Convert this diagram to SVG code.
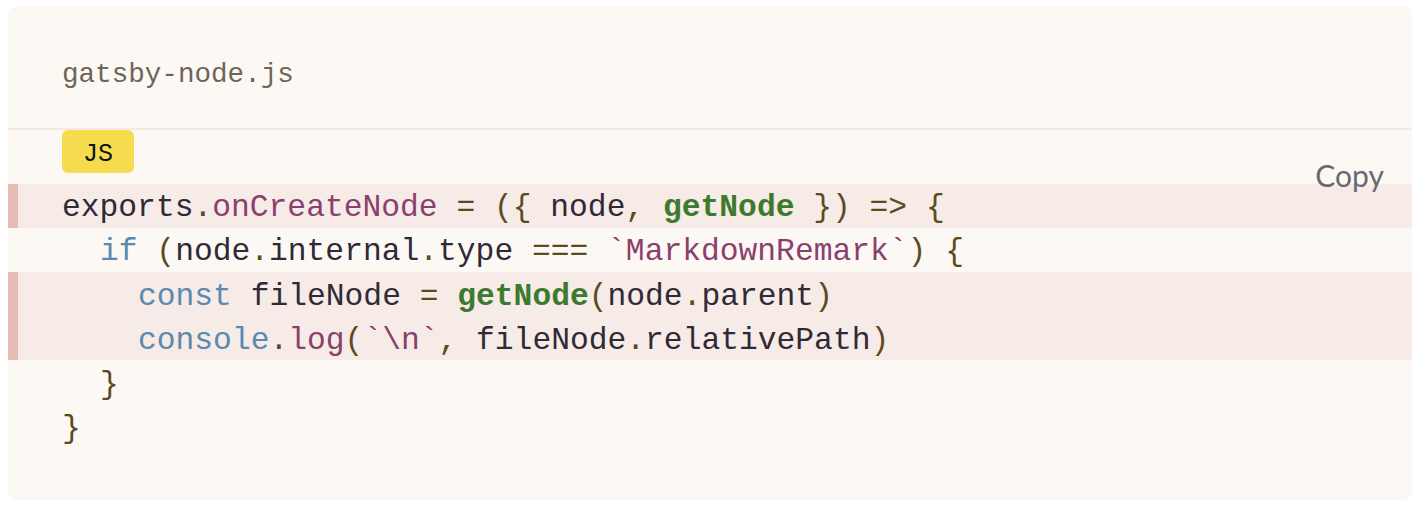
<svg xmlns="http://www.w3.org/2000/svg" width="1422" height="508" viewBox="0 0 1422 508">
<style>
.c{font-family:"Liberation Mono","DejaVu Sans Mono",monospace;font-size:31.3px;fill:#2f2a35}
.p{fill:#5b4a1f}.k{fill:#5a8ab0}.m{fill:#8b3f6e}.g{fill:#3c7a2e;font-weight:bold}
</style>
<rect width="1422" height="508" fill="#ffffff"/>
<rect x="8" y="6" width="1404" height="494" rx="9" fill="#fcf8f4"/>
<rect x="8" y="128" width="1404" height="2" fill="#f5e8e2"/>
<text x="62" y="82" font-family="Liberation Mono,monospace" font-size="27.6" fill="#6f6459">gatsby-node.js</text>
<g id="badge"><rect x="62" y="130" width="72" height="43" rx="6" fill="#f4dc4e"/>
<text x="98" y="161" text-anchor="middle" font-family="Liberation Mono,monospace" font-size="25" fill="#111">JS</text></g>
<rect x="8" y="184" width="1404" height="44" fill="#f6ebe6"/>
<rect x="8" y="272" width="1404" height="88" fill="#f6ebe6"/>
<rect x="8" y="184" width="10" height="44" fill="#e6bdb4"/>
<rect x="8" y="272" width="10" height="88" fill="#e6bdb4"/>
<text x="1384" y="187" text-anchor="end" font-family="Lato,sans-serif" font-size="30" fill="#6b6871">Copy</text>
<g class="c" xml:space="preserve">
<text x="62" y="216">exports<tspan class="p">.</tspan><tspan class="m">onCreateNode</tspan> <tspan class="p">=</tspan> <tspan class="p">({</tspan> node<tspan class="p">,</tspan> <tspan class="g">getNode</tspan> <tspan class="p">})</tspan> <tspan class="p">=&gt;</tspan> <tspan class="p">{</tspan></text>
<text x="100" y="260"><tspan class="k">if</tspan> <tspan class="p">(</tspan>node<tspan class="p">.</tspan>internal<tspan class="p">.</tspan>type <tspan class="p">===</tspan> <tspan class="m">`MarkdownRemark`</tspan><tspan class="p">)</tspan> <tspan class="p">{</tspan></text>
<text x="138" y="305"><tspan class="k">const</tspan> fileNode <tspan class="p">=</tspan> <tspan class="g">getNode</tspan><tspan class="p">(</tspan>node<tspan class="p">.</tspan>parent<tspan class="p">)</tspan></text>
<text x="138" y="349"><tspan class="k">console</tspan><tspan class="p">.</tspan><tspan class="m">log</tspan><tspan class="p">(</tspan><tspan class="m">`\n`</tspan><tspan class="p">,</tspan> fileNode<tspan class="p">.</tspan>relativePath<tspan class="p">)</tspan></text>
<text x="100" y="393"><tspan class="p">}</tspan></text>
<text x="62" y="437"><tspan class="p">}</tspan></text>
</g>
</svg>
